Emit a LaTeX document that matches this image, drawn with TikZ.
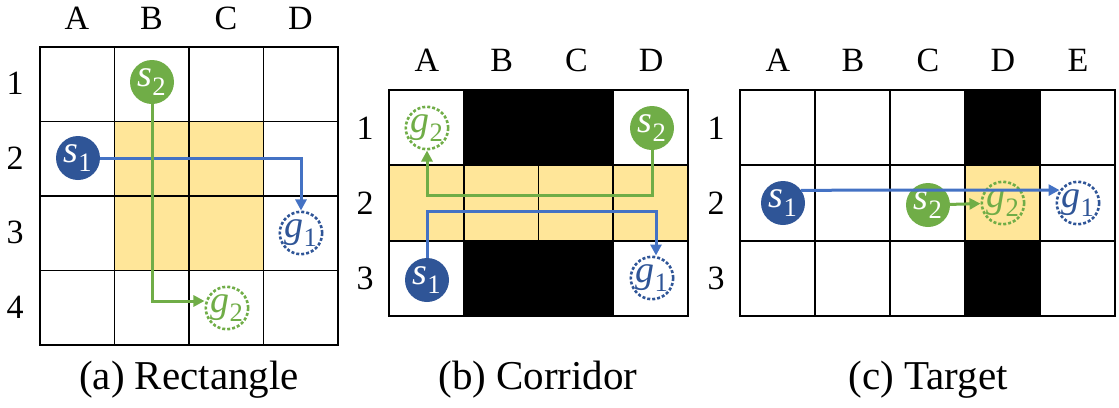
\documentclass[tikz,border=0pt]{standalone}
\usepackage{fontspec}
\setmainfont{Liberation Serif}
\usetikzlibrary{arrows.meta,positioning}
\definecolor{agentblue}{RGB}{47,85,151}
\definecolor{pathblue}{RGB}{68,114,196}
\definecolor{agentgreen}{RGB}{112,173,71}
\definecolor{cellyellow}{RGB}{255,230,153}
\begin{document}
\begin{tikzpicture}[x=1pt,y=-1pt,
  every node/.style={font=\fontsize{34}{36}\selectfont},
  caption/.style={font=\fontsize{41}{44}\selectfont},
  grid/.style={line width=1.8pt},
  start/.style={circle,minimum size=44pt,inner sep=0,fill=#1,text=white,font=\fontsize{38}{40}\selectfont},
  goal/.style={circle,minimum size=40pt,inner sep=0,draw=#1,text=#1,line width=2.6pt,dash pattern=on 3pt off 2pt,font=\fontsize{38}{40}\selectfont},
  route/.style={line width=3pt,-{Triangle[length=11pt,width=11pt]}}
]
\useasboundingbox (0,0) rectangle (1119,407);

% (a) rectangle
\fill[cellyellow] (115,122) rectangle (264,271);
\draw[grid] (40,47) rectangle (338,345);
\foreach \i in {1,2,3} {
  \draw[grid] (40+74.5*\i,47) -- (40+74.5*\i,345);
  \draw[grid] (40,47+74.5*\i) -- (338,47+74.5*\i);
}
\foreach \c [count=\i from 0] in {A,B,C,D}
  \node (la\c) at (77+74.5*\i,18) {\c};
\foreach \r in {1,...,4}
  \node (ra\r) at (15,9+74.5*\r) {\r};
\node[start=agentblue] (s1a) at (78,158) {\textit{s}\textsubscript{1}};
\node[start=agentgreen] (s2a) at (152,82) {\textit{s}\textsubscript{2}};
\node[goal=agentblue] (g1a) at (301,233) {\textit{g}\textsubscript{1}};
\node[goal=agentgreen] (g2a) at (227,308) {\textit{g}\textsubscript{2}};
\draw[route,pathblue] (s1a) -| (g1a);
\draw[route,agentgreen] (s2a) |- ([yshift=7]g2a.west);
\node[caption] (capa) at (189,380) {(a) Rectangle};

% (b) corridor
\fill[cellyellow] (389,165) rectangle (688,241);
\fill (464,90) rectangle (613,165);
\fill (464,241) rectangle (613,316);
\draw[grid] (389,90) rectangle (688,316);
\foreach \i in {1,2,3} \draw[grid] (389+74.75*\i,90) -- (389+74.75*\i,316);
\foreach \j in {1,2} \draw[grid] (389,90+75.3*\j) -- (688,90+75.3*\j);
\foreach \c [count=\i from 0] in {A,B,C,D}
  \node (lb\c) at (427+74.75*\i,60) {\c};
\foreach \r in {1,2,3}
  \node (rb\r) at (365,53+75*\r) {\r};
\node[goal=agentgreen] (g2b) at (427,128) {\textit{g}\textsubscript{2}};
\node[start=agentgreen] (s2b) at (652,128) {\textit{s}\textsubscript{2}};
\node[start=agentblue] (s1b) at (427,280) {\textit{s}\textsubscript{1}};
\node[goal=agentblue] (g1b) at (652,278) {\textit{g}\textsubscript{1}};
\coordinate (turnb) at (540,195);
\coordinate (turnbb) at (540,211);
\draw[route,agentgreen] (s2b) -- (s2b |- turnb) -| (g2b);
\draw[route,pathblue] (s1b) -- (s1b |- turnbb) -| ([xshift=4]g1b.north);
\node[caption] (capb) at (538,380) {(b) Corridor};

% (c) target
\fill[cellyellow] (966,165) rectangle (1041,241);
\fill (966,90) rectangle (1041,165);
\fill (966,241) rectangle (1041,316);
\draw[grid] (740,90) rectangle (1115,316);
\foreach \i in {1,...,4} \draw[grid] (740+75*\i,90) -- (740+75*\i,316);
\foreach \j in {1,2} \draw[grid] (740,90+75.3*\j) -- (1115,90+75.3*\j);
\foreach \c [count=\i from 0] in {A,B,C,D,E}
  \node (lc\c) at (778+75*\i,60) {\c};
\foreach \r in {1,2,3}
  \node (rc\r) at (716,53+75*\r) {\r};
\node[start=agentblue] (s1c) at (783,203) {\textit{s}\textsubscript{1}};
\node[start=agentgreen] (s2c) at (928,205) {\textit{s}\textsubscript{2}};
\node[goal=agentgreen] (g2c) at (1003,203) {\textit{g}\textsubscript{2}};
\node[goal=agentblue] (g1c) at (1078,203) {\textit{g}\textsubscript{1}};
\draw[route,pathblue] (s1c.35) -- (g1c.145);
\draw[route,agentgreen] (s2c) -- (g2c);
\node[caption] (capc) at (928,380) {(c) Target};
\end{tikzpicture}
\end{document}
